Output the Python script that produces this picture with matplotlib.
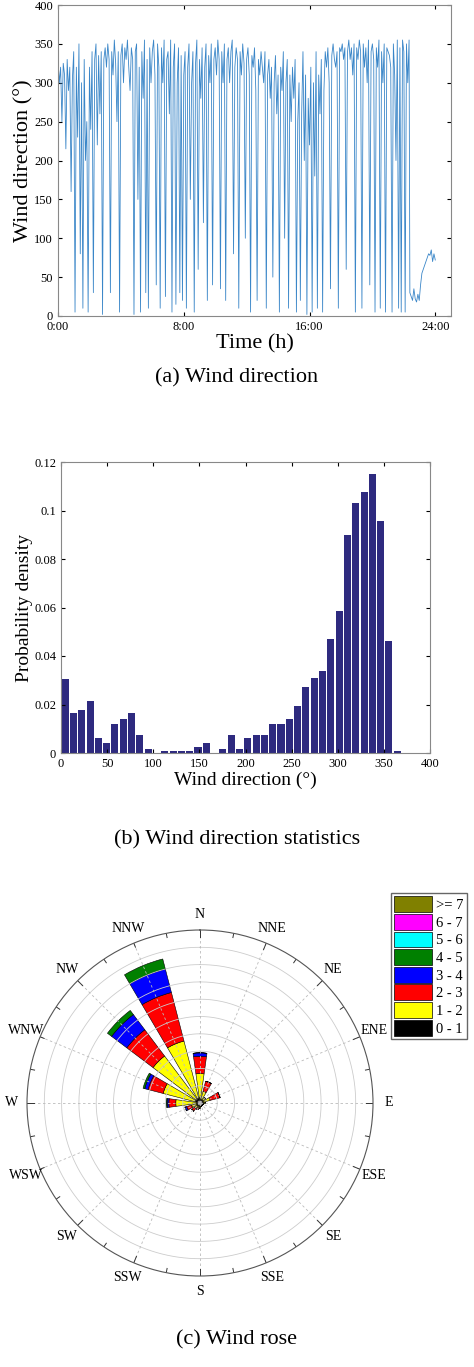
import matplotlib

matplotlib.use("Agg")
import matplotlib.pyplot as plt
import numpy as np
from matplotlib.patches import Patch

plt.rcParams["font.family"] = ["Liberation Serif", "DejaVu Serif"]

# (a) wind direction time series, 5-minute samples
STEP_H = 1 / 12
direction_main = [
    330, 300, 320, 250, 325, 310, 215, 330, 290, 320, 160, 305,
    340, 5, 320, 230, 350, 80, 300, 10, 330, 200, 250, 5,
    320, 240, 340, 30, 330, 350, 220, 335, 260, 340, 2, 330,
    345, 320, 350, 330, 30, 340, 310, 355, 325, 250, 340, 5,
    335, 350, 300, 345, 330, 355, 320, 290, 345, 330, 2, 340,
    350, 150, 320, 5, 340, 280, 355, 30, 330, 10, 345, 300,
    340, 355, 310, 40, 350, 320, 10, 345, 300, 355, 25, 330,
    340, 260, 355, 5, 320, 350, 15, 300, 345, 30, 335, 20,
    310, 340, 10, 320, 350, 150, 300, 340, 5, 325, 355, 60,
    330, 280, 345, 120, 320, 350, 20, 335, 300, 350, 40, 330,
    345, 310, 355, 330, 35, 340, 300, 350, 20, 330, 345, 300,
    340, 355, 80, 320, 345, 330, 10, 340, 310, 350, 325, 100,
    330, 345, 310, 5, 335, 320, 345, 290, 20, 330, 310, 340,
    320, 300, 340, 10, 310, 330, 280, 320, 50, 300, 335, 260,
    310, 5, 320, 290, 340, 100, 300, 330, 10, 310, 250, 320,
    280, 330, 5, 250, 300, 20, 260, 340, 200, 310, 2, 280,
    220, 320, 5, 300, 180, 340, 10, 310, 260, 330, 5, 290,
    340, 320, 345, 300, 35, 335, 350, 330, 320, 340, 10, 345,
    340, 350, 330, 345, 60, 340, 355, 330, 345, 310, 350, 5,
    345, 330, 355, 340, 10, 350, 320, 345, 300, 355, 40, 340,
    350, 330, 5, 345, 320, 355, 10, 340, 300, 350, 5, 345,
    340, 335, 320, 5, 350, 310, 200, 355, 10, 345, 5, 355,
    340, 5, 350, 300, 355,
]
direction_tail = [30, 25, 20, 35, 22, 18, 28, 20, 40, 55,
                  60, 65, 70, 75, 80, 78, 85, 70, 80, 72]

# (b) histogram of wind direction, 9 degree bins starting at 0
BIN_W = 9
density = [
    0.0305, 0.0163, 0.0176, 0.0215, 0.006, 0.004, 0.012, 0.014, 0.0163, 0.0075,
    0.0015, 0.0, 0.0008, 0.0008, 0.0008, 0.0008, 0.0023, 0.004, 0.0, 0.0015,
    0.0075, 0.0015, 0.006, 0.0075, 0.0075, 0.012, 0.012, 0.014, 0.0193, 0.0273,
    0.031, 0.034, 0.047, 0.0585, 0.090, 0.103, 0.1075, 0.115, 0.0957, 0.046,
    0.0008,
]

# (c) wind rose: per sector, length of each speed class (0-1 .. 4-5)
sectors = ["N", "NNE", "NE", "ENE", "E", "ESE", "SE", "SSE",
           "S", "SSW", "SW", "WSW", "W", "WNW", "NW", "NNW"]
rose = [
    [0.03, 0.14, 0.10, 0.02, 0.0],
    [0.02, 0.05, 0.06, 0.0, 0.0],
    [0.02, 0.02, 0.0, 0.0, 0.0],
    [0.02, 0.04, 0.06, 0.0, 0.0],
    [0.02, 0.01, 0.0, 0.0, 0.0],
    [0.02, 0.0, 0.0, 0.0, 0.0],
    [0.02, 0.0, 0.0, 0.0, 0.0],
    [0.02, 0.0, 0.0, 0.0, 0.0],
    [0.02, 0.01, 0.0, 0.0, 0.0],
    [0.02, 0.01, 0.01, 0.0, 0.0],
    [0.02, 0.02, 0.02, 0.0, 0.0],
    [0.02, 0.03, 0.03, 0.01, 0.0],
    [0.02, 0.12, 0.04, 0.01, 0.005],
    [0.03, 0.19, 0.09, 0.02, 0.01],
    [0.03, 0.31, 0.19, 0.11, 0.03],
    [0.03, 0.34, 0.29, 0.14, 0.06],
]
speed_labels = ["0 - 1", "1 - 2", "2 - 3", "3 - 4", "4 - 5", "5 - 6", "6 - 7", ">= 7"]
speed_colors = ["black", "yellow", "red", "blue", "#008000", "cyan", "magenta", "#808000"]

W, H = 474, 1367
fig = plt.figure(figsize=(W / 100, H / 100), dpi=100)


def box(l, t, r, b):
    return [l / W, 1 - b / H, (r - l) / W, (b - t) / H]


# ---- (a)
ax = fig.add_axes(box(58, 5, 451, 316))
t_main = np.arange(len(direction_main)) * STEP_H
t_tail = t_main[-1] + 0.05 + np.arange(len(direction_tail)) * (24.0 - t_main[-1] - 0.05) / (len(direction_tail) - 1)
ax.plot(np.concatenate([t_main, t_tail]), direction_main + direction_tail,
        color="#3a86c8", lw=0.6)
ax.set_xlim(0, 25)
ax.set_ylim(0, 400)
ax.set_xticks([0, 8, 16, 24])
ax.set_xticklabels(["0:00", "8:00", "16:00", "24:00"])
ax.set_xlabel("Time (h)", fontsize=16, labelpad=1)
ax.set_ylabel("Wind direction (°)", fontsize=16, labelpad=1)
fig.text(0.5, 1 - 378 / H, "(a) Wind direction", ha="center", va="center", fontsize=16)

# ---- (b)
bx = fig.add_axes(box(61, 462, 430, 753))
edges = np.arange(len(density)) * BIN_W
bx.bar(edges + BIN_W / 2, density, width=BIN_W * 0.85, color="#2e2a7f")
bx.set_xlim(0, 400)
bx.set_ylim(0, 0.12)
bx.set_yticks([0, 0.02, 0.04, 0.06, 0.08, 0.1, 0.12])
bx.set_yticklabels(["0", "0.02", "0.04", "0.06", "0.08", "0.1", "0.12"])
bx.set_xlabel("Wind direction (°)", fontsize=14, labelpad=1)
bx.set_ylabel("Probability density", fontsize=14, labelpad=1)
fig.text(0.5, 1 - 840 / H, "(b) Wind direction statistics", ha="center", va="center", fontsize=16)

for a in (ax, bx):
    a.tick_params(direction="in", labelsize=9, top=True, right=True, length=3)
    for s in a.spines.values():
        s.set_color("#888888")

# ---- (c)
cx_px, cy_px, rad_px = 200, 1103, 173
px = fig.add_axes(box(cx_px - rad_px, cy_px - rad_px, cx_px + rad_px, cy_px + rad_px),
                  projection="polar")
px.set_theta_zero_location("N")
px.set_theta_direction(-1)
px.set_ylim(0, 1)
px.grid(False)
px.set_xticks([])
px.set_yticks([])
px.spines["polar"].set_color("#555555")
theta_full = np.linspace(0, 2 * np.pi, 361)
for r in np.arange(0.1, 1.0, 0.1):
    px.plot(theta_full, np.full_like(theta_full, r), color="#cccccc", lw=0.6)
angles = np.deg2rad(np.arange(16) * 22.5)
for a in angles:
    px.plot([a, a], [0, 1], color="#bbbbbb", lw=0.6, ls=(0, (3, 3)))
for a in np.deg2rad(np.arange(32) * 11.25):
    px.plot([a, a], [0.975 if a % (np.pi / 8) else 0.96, 1], color="#333333", lw=0.7)
rose_arr = np.array(rose)
bottom = np.zeros(len(sectors))
for k in range(rose_arr.shape[1]):
    px.bar(angles, rose_arr[:, k], width=np.deg2rad(16), bottom=bottom,
           color=speed_colors[k], edgecolor="black", lw=0.4)
    bottom += rose_arr[:, k]
for a, name in zip(angles, sectors):
    px.text(a, 1.09, name, ha="center", va="center", fontsize=10)

handles = [Patch(facecolor=c, edgecolor="black", lw=0.5) for c in speed_colors][::-1]
fig.legend(handles, speed_labels[::-1], loc="upper right",
           bbox_to_anchor=(1.0, 1 - 886 / H), fontsize=10.5, handlelength=2.6,
           handleheight=1.3, labelspacing=0.12, borderpad=0.2, handletextpad=0.3,
           fancybox=False, edgecolor="#666666", framealpha=1)
fig.text(0.5, 1 - 1340 / H, "(c) Wind rose", ha="center", va="center", fontsize=16)

fig.savefig("out.png", dpi=100)
